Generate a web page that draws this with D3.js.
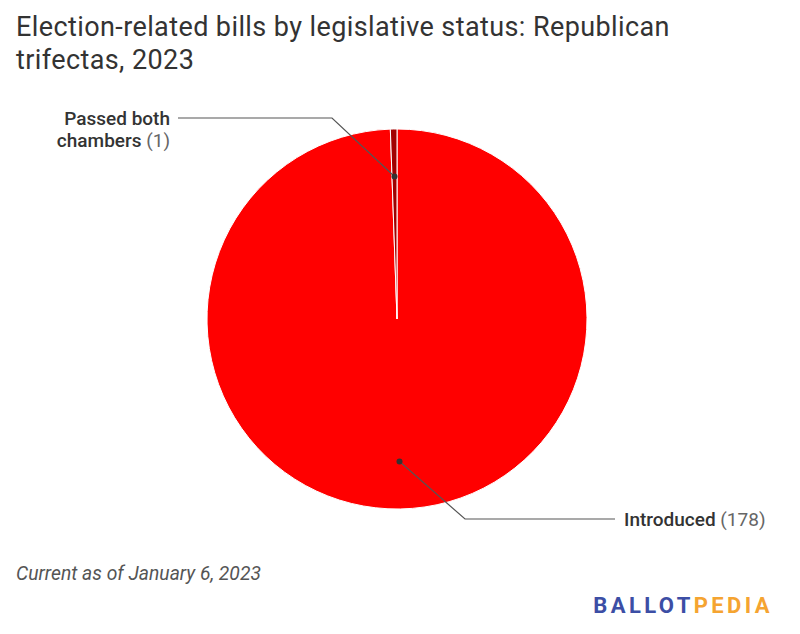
<!DOCTYPE html>
<html>
<head>
<meta charset="utf-8">
<script src="https://cdn.jsdelivr.net/npm/d3@7"></script>
<style>
  body { margin: 0; background: #fff; }
  text { font-family: Roboto, sans-serif; }
</style>
</head>
<body>
<div id="chart"></div>
<script>
// Data
var categories = ["Introduced", "Passed both chambers"];
var values = [178, 1];
var colors = ["#ff0000", "#a10000"];

var width = 800;
var height = 634;

var cx = 397, cy = 319, radius = 190;

var svg = d3.select("#chart")
  .append("svg")
  .attr("width", width)
  .attr("height", height);

// Title
var title = svg.append("text")
  .attr("fill", "#333")
  .style("font-size", "27px")
  .style("letter-spacing", "0.4px");
title.append("tspan").attr("x", 16).attr("y", 36).text("Election-related bills by legislative status: Republican");
title.append("tspan").attr("x", 16).attr("y", 69).text("trifectas, 2023");

var data = categories.map(function (c, i) {
  return { name: c, value: values[i], color: colors[i] };
});

var pie = d3.pie()
  .sort(null)
  .value(function (d) { return d.value; });

var arc = d3.arc().innerRadius(0).outerRadius(radius);
var dotArc = d3.arc().innerRadius(radius * 0.75).outerRadius(radius * 0.75);

var g = svg.append("g")
  .attr("transform", "translate(" + cx + "," + cy + ")");

var arcs = pie(data);

g.selectAll("path")
  .data(arcs)
  .enter()
  .append("path")
  .attr("d", arc)
  .attr("fill", function (d) { return d.data.color; })
  .attr("stroke", "#fff")
  .attr("stroke-width", 1);

// Leader lines and labels
var labelInfo = [
  { bend: [465, 519], end: [615, 519], anchor: "start", tx: 624, lines: ["Introduced"] },
  { bend: [332, 118], end: [178, 118], anchor: "end", tx: 170, lines: ["Passed both", "chambers"] }
];

arcs.forEach(function (d, i) {
  var info = labelInfo[i];
  var p = dotArc.centroid(d);
  var px = cx + p[0], py = cy + p[1];

  svg.append("polyline")
    .attr("points", [[px, py], info.bend, info.end].map(function (q) { return q.join(","); }).join(" "))
    .attr("fill", "none")
    .attr("stroke", "#555")
    .attr("stroke-width", 1.2);

  svg.append("circle")
    .attr("cx", px)
    .attr("cy", py)
    .attr("r", 3)
    .attr("fill", "#333");

  var t = svg.append("text")
    .attr("text-anchor", info.anchor)
    .style("font-size", "19px");
  var baseY = info.end[1] + 7;
  info.lines.forEach(function (line, k) {
    t.append("tspan")
      .attr("x", info.tx)
      .attr("y", baseY + k * 22)
      .attr("fill", "#333")
      .style("font-weight", 500)
      .text(line);
    if (k === info.lines.length - 1) {
      t.append("tspan")
        .attr("fill", "#666")
        .text(" (" + d.data.value + ")");
    }
  });
});

// Footer
svg.append("text")
  .attr("x", 16)
  .attr("y", 580)
  .attr("fill", "#555")
  .style("font-size", "19.3px")
  .style("font-style", "italic")
  .text("Current as of January 6, 2023");

var logo = svg.append("text")
  .attr("x", 773)
  .attr("y", 613)
  .attr("text-anchor", "end")
  .style("font-size", "22px")
  .style("font-weight", "bold")
  .style("letter-spacing", "3.4px");
logo.append("tspan").attr("fill", "#3c4ea5").text("BALLOT");
logo.append("tspan").attr("fill", "#f5a431").text("PEDIA");
</script>
</body>
</html>
